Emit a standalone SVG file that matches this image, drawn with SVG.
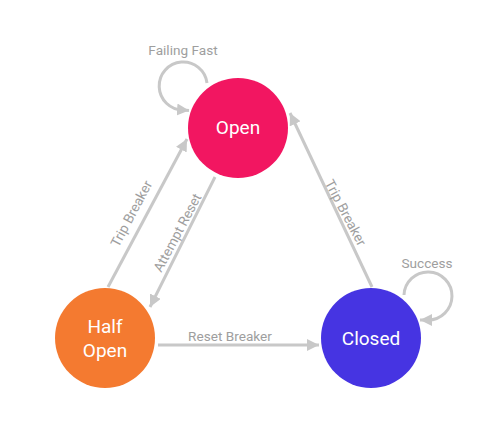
<svg xmlns="http://www.w3.org/2000/svg" width="495" height="428" viewBox="0 0 495 428">
<style>
.edge{fill:none;stroke:#C8C8C8;stroke-width:3;}
.lbl{font-family:Roboto,"Liberation Sans",sans-serif;font-size:13.6px;fill:#9E9E9E;text-anchor:middle;}
.nt{font-family:Roboto,"Liberation Sans",sans-serif;font-size:19px;fill:#FFFFFF;text-anchor:middle;}
</style>
<defs>
<marker id="ah" markerUnits="userSpaceOnUse" markerWidth="14" markerHeight="14" refX="12" refY="6" orient="auto">
<path d="M0,0 L12,6 L0,12 Z" fill="#C8C8C8"/>
</marker>
</defs>
<rect width="495" height="428" fill="#FFFFFF"/>
<g id="connectors">
<line class="edge" x1="108" y1="287" x2="187" y2="139" marker-end="url(#ah)"/>
<line class="edge" x1="215" y1="177" x2="150" y2="307" marker-end="url(#ah)"/>
<line class="edge" x1="372" y1="287" x2="290" y2="113" marker-end="url(#ah)"/>
<line class="edge" x1="158" y1="345" x2="319" y2="345" marker-end="url(#ah)"/>
<path class="edge" d="M207,83 A24,24 0 1 0 183,110 L189,110.5" marker-end="url(#ah)"/>
<path class="edge" d="M404,295 A24,24 0 1 1 428,320 L420,320" marker-end="url(#ah)"/>
<text class="lbl" transform="translate(132,214) rotate(-62)" y="4">Trip Breaker</text>
<text class="lbl" transform="translate(178,233) rotate(-62)" y="4">Attempt Reset</text>
<text class="lbl" transform="translate(345,213) rotate(62)" y="4">Trip Breaker</text>
<text class="lbl" x="230" y="341">Reset Breaker</text>
<text class="lbl" x="183" y="55">Failing Fast</text>
<text class="lbl" x="427" y="268">Success</text>
</g>
<g id="node-open">
<circle cx="238" cy="128" r="50" fill="#F21661"/>
<text class="nt" x="238" y="134">Open</text>
</g>
<g id="node-halfopen">
<circle cx="105" cy="338" r="50" fill="#F47A30"/>
<text class="nt" x="105" y="333">Half</text>
<text class="nt" x="105" y="357">Open</text>
</g>
<g id="node-closed">
<circle cx="371" cy="338" r="50" fill="#4634E2"/>
<text class="nt" x="371" y="345">Closed</text>
</g>
</svg>
